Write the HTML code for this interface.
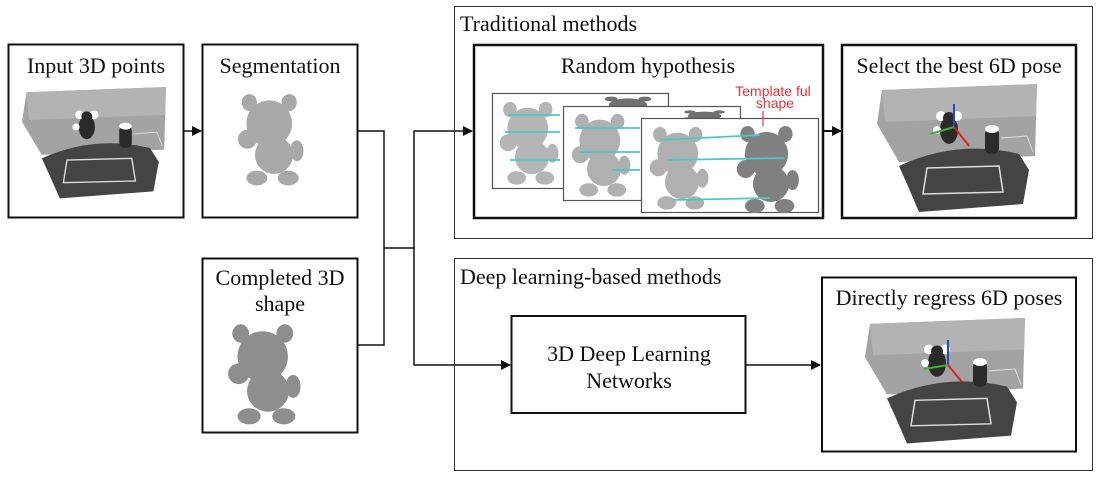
<!DOCTYPE html>
<html><head><meta charset="utf-8"><style>
html,body{margin:0;padding:0;background:#fff;}
svg{display:block;}
text{font-family:"Liberation Serif",serif;fill:#111;}
</style></head><body>
<svg width="1102" height="477" viewBox="0 0 1102 477" xmlns="http://www.w3.org/2000/svg">
<defs>
<marker id="ar" markerWidth="10" markerHeight="10" refX="9" refY="5" orient="auto" markerUnits="userSpaceOnUse">
<path d="M0,0 L10,5 L0,10 Z" fill="#111"/></marker>
<g id="scene">
<polygon points="5,6 160,0 158,72 22,78 0,40" fill="#a3a3a3"/>
<polygon points="5,6 160,0 159,32 8,38" fill="#b3b3b3"/>
<path d="M22,82 Q80,55 142,70 L152,86 L146,120 L42,128 L30,100 Z" fill="#444"/>
<polygon points="50,84 122,82 126,108 46,110" fill="none" stroke="#ddd" stroke-width="1.5"/>
<ellipse cx="72" cy="46" rx="9" ry="14" fill="#2a2a2a"/>
<circle cx="64" cy="32" r="5" fill="#fff"/><circle cx="80" cy="32" r="5" fill="#fff"/>
<circle cx="72" cy="34" r="6" fill="#2a2a2a"/>
<circle cx="60" cy="46" r="4" fill="#fff"/>
<rect x="108" y="44" width="14" height="26" rx="6" fill="#2a2a2a"/>
<ellipse cx="115" cy="45" rx="7" ry="4" fill="#fff"/>
<line x1="124" y1="54" x2="150" y2="52" stroke="#ddd" stroke-width="1"/>
<line x1="150" y1="52" x2="156" y2="68" stroke="#ddd" stroke-width="1"/>
</g>
<g id="teddy">
<ellipse cx="35" cy="30" rx="24" ry="22"/>
<circle cx="14" cy="10" r="8"/><circle cx="56" cy="10" r="8"/>
<ellipse cx="12" cy="45" rx="10" ry="9"/>
<ellipse cx="40" cy="60" rx="20" ry="18"/>
<ellipse cx="64" cy="56" rx="7" ry="10"/>
<ellipse cx="22" cy="82" rx="11" ry="7"/>
<ellipse cx="55" cy="82" rx="11" ry="7"/>
</g>
</defs>

<!-- Left boxes -->
<rect x="8.5" y="44.5" width="175" height="173" fill="#fff" stroke="#111" stroke-width="2"/>
<text x="96" y="73" font-size="22" text-anchor="middle">Input 3D points</text>
<use href="#scene" transform="translate(22,87) scale(0.9,0.87)"/>

<rect x="202.5" y="44.5" width="155" height="173" fill="#fff" stroke="#111" stroke-width="2"/>
<text x="280" y="73" font-size="22" text-anchor="middle">Segmentation</text>
<g fill="#a8a8a8"><use href="#teddy" transform="translate(236,92) scale(0.95,1.05)"/></g>

<rect x="202.5" y="258.5" width="155" height="174" fill="#fff" stroke="#111" stroke-width="2"/>
<text x="280" y="285" font-size="22" text-anchor="middle">Completed 3D</text>
<text x="280" y="311" font-size="22" text-anchor="middle">shape</text>
<g fill="#8e8e8e"><use href="#teddy" transform="translate(226,322) scale(1.05,1.15)"/></g>

<line x1="183" y1="131" x2="201" y2="131" stroke="#111" stroke-width="1.5" marker-end="url(#ar)"/>

<!-- connectors -->
<polyline points="357,131 384,131 384,345 357,345" fill="none" stroke="#111" stroke-width="1.5"/>
<line x1="384" y1="248" x2="414" y2="248" stroke="#111" stroke-width="1.5"/>
<line x1="414" y1="131" x2="414" y2="365" stroke="#111" stroke-width="1.5"/>
<line x1="414" y1="131" x2="472" y2="131" stroke="#111" stroke-width="1.5" marker-end="url(#ar)"/>
<line x1="414" y1="365" x2="510" y2="365" stroke="#111" stroke-width="1.5" marker-end="url(#ar)"/>

<!-- Traditional -->
<rect x="454.5" y="6.5" width="638" height="232" fill="none" stroke="#333" stroke-width="1"/>
<text x="460" y="31" font-size="22">Traditional methods</text>
<rect x="474" y="45" width="349" height="173" fill="#fff" stroke="#111" stroke-width="2.5"/>
<text x="648" y="73" font-size="22" text-anchor="middle">Random hypothesis</text>
<rect x="492.5" y="93.5" width="176" height="95" fill="#fff" stroke="#555" stroke-width="1.2"/>
<g fill="#b5b5b5"><use href="#teddy" transform="translate(498,100) scale(0.85,0.95)"/></g>
<g fill="#707070"><use href="#teddy" transform="translate(600,96) scale(0.8,0.3)"/></g>
<rect x="563.5" y="106.5" width="177" height="94" fill="#fff" stroke="#555" stroke-width="1.2"/>
<g fill="#b0b0b0"><use href="#teddy" transform="translate(570,112) scale(0.85,0.95)"/></g>
<g fill="#707070"><use href="#teddy" transform="translate(680,110) scale(0.7,0.2)"/></g>
<rect x="641.5" y="118.5" width="177" height="94" fill="#fff" stroke="#555" stroke-width="1.2"/>
<g fill="#b0b0b0"><use href="#teddy" transform="translate(648,125) scale(0.85,0.95)"/></g>
<g fill="#808080"><use href="#teddy" transform="translate(735,124) scale(0.9,1)"/></g>
<g stroke="#4cc6c8" stroke-width="1.8">
<line x1="508" y1="115" x2="560" y2="115"/><line x1="505" y1="132" x2="560" y2="132"/><line x1="510" y1="160" x2="560" y2="160"/>
<line x1="575" y1="128" x2="640" y2="128"/><line x1="580" y1="152" x2="640" y2="152"/><line x1="612" y1="170" x2="640" y2="170"/>
<line x1="660" y1="140" x2="760" y2="135"/><line x1="668" y1="160" x2="785" y2="158"/><line x1="673" y1="200" x2="770" y2="198"/>
</g>
<text x="773" y="96" font-size="14" text-anchor="middle" style="font-family:'Liberation Sans',sans-serif;fill:#e8323c">Template ful</text>
<text x="775" y="108" font-size="14" text-anchor="middle" style="font-family:'Liberation Sans',sans-serif;fill:#e8323c">shape</text>
<line x1="763" y1="126" x2="763" y2="111" stroke="#e8323c" stroke-width="1.2"/>

<line x1="823" y1="131" x2="841" y2="131" stroke="#111" stroke-width="2" marker-end="url(#ar)"/>
<rect x="842" y="45" width="234" height="173" fill="#fff" stroke="#111" stroke-width="2.5"/>
<text x="959" y="73" font-size="22" text-anchor="middle">Select the best 6D pose</text>
<use href="#scene" transform="translate(877,84) scale(1,1)"/>
<g stroke-width="2"><line x1="954" y1="127" x2="954" y2="104" stroke="#2846c8"/><line x1="954" y1="127" x2="930" y2="134" stroke="#3cb43c"/><line x1="954" y1="127" x2="969" y2="146" stroke="#e02020"/></g>

<!-- Deep learning -->
<rect x="454.5" y="258.5" width="638" height="212" fill="none" stroke="#333" stroke-width="1"/>
<text x="460" y="284" font-size="22">Deep learning-based methods</text>
<rect x="511.5" y="316" width="234" height="97" fill="#fff" stroke="#111" stroke-width="2"/>
<text x="629" y="361" font-size="22" text-anchor="middle">3D Deep Learning</text>
<text x="629" y="388" font-size="22" text-anchor="middle">Networks</text>
<line x1="745" y1="365" x2="820" y2="365" stroke="#111" stroke-width="1.5" marker-end="url(#ar)"/>
<rect x="822" y="277.5" width="254" height="174" fill="#fff" stroke="#111" stroke-width="2"/>
<text x="949" y="305" font-size="22" text-anchor="middle">Directly regress 6D poses</text>
<use href="#scene" transform="translate(865,318) scale(1,0.98)"/>
<g stroke-width="2"><line x1="948" y1="365" x2="948" y2="340" stroke="#2846c8"/><line x1="948" y1="365" x2="924" y2="369" stroke="#3cb43c"/><line x1="948" y1="365" x2="962" y2="382" stroke="#e02020"/></g>
</svg>
</body></html>
